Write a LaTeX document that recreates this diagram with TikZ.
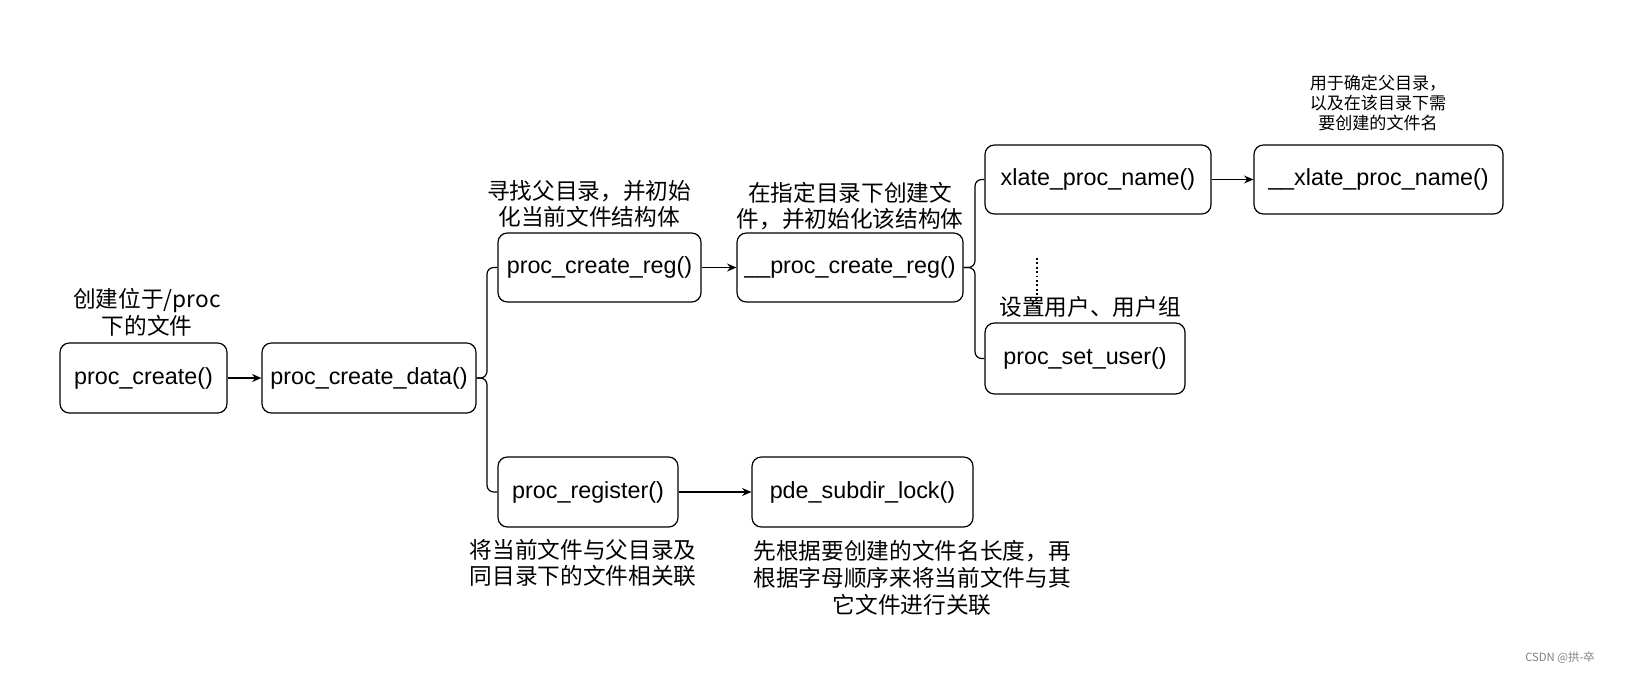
\documentclass[tikz,border=0pt]{standalone}
\usepackage{fontspec}
\setmainfont{Liberation Sans}
\newfontfamily\cjk{Noto Sans CJK SC}
\usetikzlibrary{arrows.meta}
\begin{document}
\begin{tikzpicture}[x=0.75pt,y=-0.75pt,
  box/.style={draw,rounded corners=7pt,line width=0.9pt,font=\fontsize{17.5}{20}\selectfont,inner sep=0pt},
  sz/.style 2 args={minimum width={#1*0.75pt},minimum height={#2*0.75pt}},
  lab/.style={font=\cjk\fontsize{17}{20}\selectfont,align=center,inner sep=0pt},
  slab/.style={font=\cjk\fontsize{12.8}{15}\selectfont,align=center,inner sep=0pt},
  arr/.style={-{Stealth[length=7pt,width=6pt]},line width=0.9pt},
  con/.style={line width=0.9pt,rounded corners=5pt}]
\useasboundingbox (0,0) rectangle (1652,678);
\node[box,sz={167}{70}] (pc) at (143.5,378) {proc\_create()};
\node[box,sz={214}{70}] (pcd) at (369,378) {proc\_create\_data()};
\node[box,sz={203}{69}] (pcr) at (599.5,267.5) {proc\_create\_reg()};
\node[box,sz={226}{69}] (upcr) at (850,267.5) {\_\_proc\_create\_reg()};
\node[box,sz={226}{69}] (xpn) at (1098,179.5) {xlate\_proc\_name()};
\node[box,sz={249}{69}] (uxpn) at (1378.5,179.5) {\_\_xlate\_proc\_name()};
\node[box,sz={200}{71}] (psu) at (1085,358.5) {proc\_set\_user()};
\node[box,sz={180}{70}] (preg) at (588,492) {proc\_register()};
\node[box,sz={221}{70}] (pde) at (862.5,492) {pde\_subdir\_lock()};

\draw[arr] (pc) -- (pcd);
\draw[arr] (pcr) -- (upcr);
\draw[arr] (xpn) -- (uxpn);
\draw[arr] (preg) -- (pde);

\coordinate (b1) at (487,378);
\coordinate (b2) at (975,267.5);
\draw[con] (pcd.east) -- (b1) |- (pcr.west);
\draw[con] (pcd.east) -- (b1) |- (preg.west);
\draw[con] (upcr.east) -- (b2) |- (xpn.west);
\draw[con] (upcr.east) -- (b2) |- (psu.west);
\coordinate (d1) at (1037,258);
\coordinate (d2) at (1037,310);
\draw[line width=1.3pt,dotted] (d1) -- (d2);

\node[lab] (l1) at (147,312) {创建位于/proc\\下的文件};
\node[lab] (l2) at (589,204) {寻找父目录，并初始\\化当前文件结构体};
\node[lab] (l3) at (850,206) {在指定目录下创建文\\件，并初始化该结构体};
\node[slab] (l4) at (1378,103) {用于确定父目录，\\以及在该目录下需\\要创建的文件名};
\node[lab] (l5) at (1090,307) {设置用户、用户组};
\node[lab] (l6) at (583,563) {将当前文件与父目录及\\同目录下的文件相关联};
\node[lab] (l7) at (912,578) {先根据要创建的文件名长度，再\\根据字母顺序来将当前文件与其\\它文件进行关联};
\node[font=\cjk\fontsize{8.5}{10}\selectfont,text=gray,inner sep=0pt] (wm) at (1560,658) {CSDN @拱-卒};
\end{tikzpicture}
\end{document}
